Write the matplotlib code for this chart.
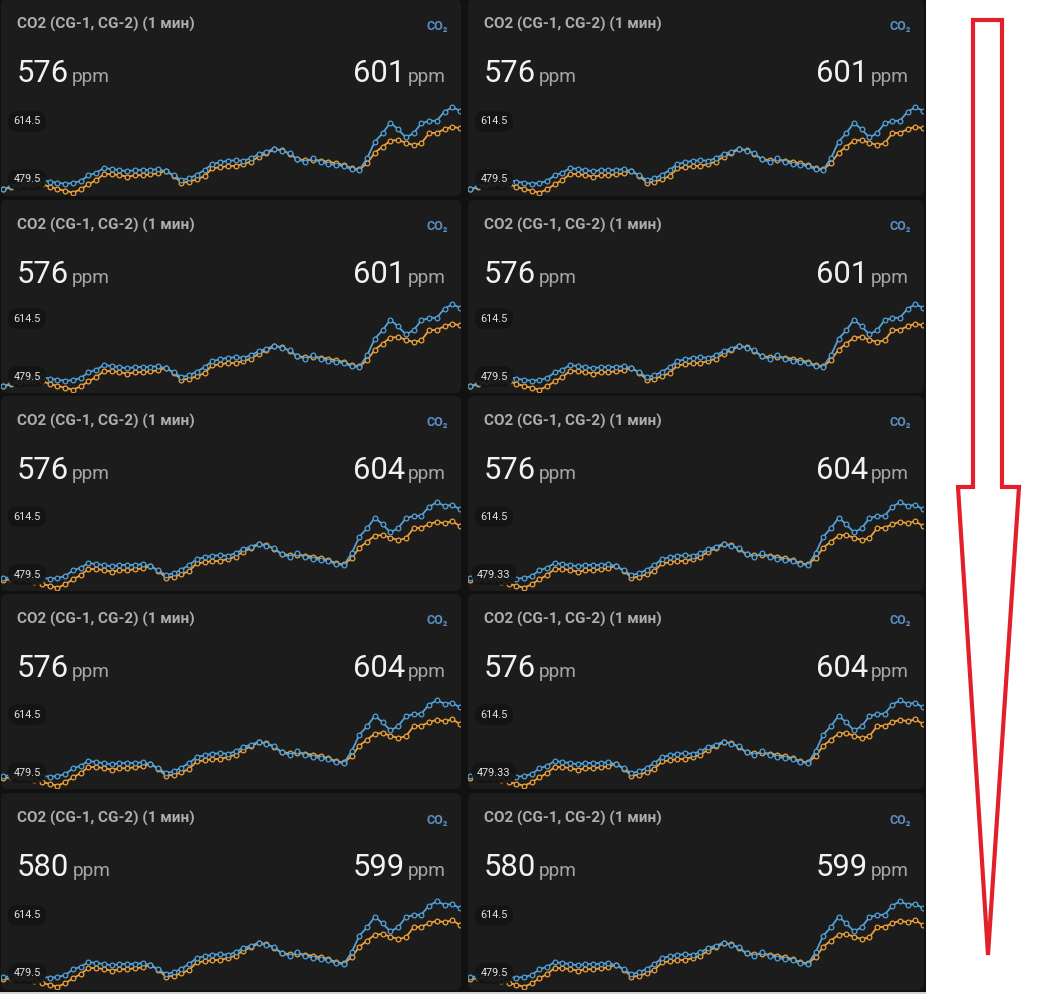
import numpy as np
import matplotlib.pyplot as plt
from matplotlib.patches import FancyBboxPatch, Polygon, Rectangle

plt.rcParams['font.family'] = ['Roboto', 'DejaVu Sans']

# CO2 readings, one per minute (ppm)
co2_cg1 = [484.8, 490.0, 494.3, 496.4, 498.5, 499.5, 496.9, 495.3, 493.7, 494.8,
           498.0, 506.9, 511.1, 518.5, 516.9, 515.4, 513.2, 515.4, 515.4, 515.4,
           516.9, 513.2, 506.9, 499.5, 502.2, 508.0, 515.4, 524.9, 527.5, 530.1,
           530.7, 530.1, 533.8, 540.7, 544.4, 549.1, 545.9, 541.7, 532.2, 528.5,
           533.8, 528.5, 524.9, 523.3, 521.7, 516.4, 515.4, 533.8, 560.2, 573.4,
           590.2, 579.7, 567.0, 573.4, 589.2, 592.9, 593.4, 607.6, 614.5, 609.2,
           610.3, 603.4]
co2_cg2 = [484.8, 488.0, 491.0, 493.0, 494.0, 492.7, 489.0, 485.3, 482.7, 479.5,
           484.8, 492.7, 499.5, 509.0, 509.0, 507.4, 504.8, 506.9, 507.4, 508.5,
           510.1, 514.3, 506.4, 495.3, 496.9, 500.6, 505.9, 518.0, 519.6, 521.7,
           521.7, 524.9, 528.5, 536.5, 541.7, 548.1, 547.0, 540.7, 532.2, 531.2,
           531.2, 530.1, 528.5, 525.9, 523.3, 518.0, 516.4, 525.9, 542.8, 552.3,
           561.8, 562.8, 558.6, 554.9, 557.5, 573.4, 574.4, 579.7, 583.9, 581.3,
           584.5, 577.0]

title = "CO2 (CG-1, CG-2) (1 мин)"
left_values = ["576", "576", "576", "576", "580"]
right_values = ["601", "601", "604", "604", "599"]
max_label = "614.5"
min_labels = [["479.5", "479.5"], ["479.5", "479.5"], ["479.5", "479.33"],
              ["479.5", "479.33"], ["479.5", "479.5"]]
row_shift = [0, 0, 2, 2, 2]
n_points = 60

W, H = 1058, 1000
fig = plt.figure(figsize=(W / 100, H / 100), dpi=100, facecolor='white')
bg = fig.add_axes([0, 0, 1, 1])
bg.set_xlim(0, W)
bg.set_ylim(H, 0)
bg.axis('off')

card_col = '#1c1c1c'
blue = '#52a2d9'
orange = '#eea13a'

bg.add_patch(Rectangle((0, 0), 926, 992, color='#111111', lw=0))
bg.add_patch(Rectangle((0, 992), 926, 2, color='#cfcfcf', lw=0))

card_tops = [-1, 200, 396, 594, 793]
card_bots = [196, 393, 591, 789, 990]
card_cols = [(1, 461), (468, 924)]

renderer = fig.canvas.get_renderer()

for r in range(5):
    top, bot = card_tops[r], card_bots[r]
    s = row_shift[r]
    y1 = np.array(co2_cg1[s:s + n_points])
    y2 = np.array(co2_cg2[s:s + n_points])
    for c, (L, R) in enumerate(card_cols):
        wc = R - L
        card = FancyBboxPatch((L, top), wc, bot - top,
                              boxstyle='round,pad=0,rounding_size=6',
                              fc=card_col, ec='none')
        bg.add_patch(card)

        # graph area: bottom 100 px of the card
        step = (wc - 3.3) / (n_points - 1)
        ax = fig.add_axes([L / W, 1 - bot / H, wc / W, 100 / H])
        ax.set_xlim(-2.3 / step, (wc - 2.3) / step)
        ax.set_ylim(474.3, 632.4)
        ax.axis('off')
        ax.patch.set_alpha(0)
        x = np.arange(n_points)
        for yy, col in [(y2, orange), (y1, blue)]:
            ln, = ax.plot(x, yy, color=col, lw=1.3, marker='o', ms=3.4,
                          mfc=card_col, mec=col, mew=0.9)
            ln.set_clip_path(card)

        # header
        fig.text(L + 16, top + 25, title, transform=bg.transData,
                 fontsize=11.0, fontweight='bold', color='#adadad',
                 ha='left', va='center')
        fig.text(R - 24, top + 27, "CO₂", transform=bg.transData,
                 fontsize=9, fontweight='bold', color='#5b8fc4',
                 ha='center', va='center')

        # current values
        base = top + 83
        t = fig.text(L + 16, base, left_values[r], transform=bg.transData,
                     fontsize=22.3, color='#f2f2f2', ha='left', va='baseline')
        ext = t.get_window_extent(renderer)
        fig.text(L + 16 + ext.width + 3, base, "ppm", transform=bg.transData,
                 fontsize=13.8, color='#a5a5a5', ha='left', va='baseline')
        p = fig.text(R - 15, base, "ppm", transform=bg.transData,
                     fontsize=13.8, color='#a5a5a5', ha='right', va='baseline')
        pext = p.get_window_extent(renderer)
        fig.text(R - 15 - pext.width - 3, base, right_values[r],
                 transform=bg.transData, fontsize=22.3, color='#f2f2f2',
                 ha='right', va='baseline')

        # min / max labels
        for lab, yy in [(max_label, bot - 74.5), (min_labels[r][c], bot - 16.5)]:
            fig.text(L + 26, yy, lab, transform=bg.transData, fontsize=7.8,
                     color='#e2e2e2', ha='center', va='center',
                     bbox=dict(boxstyle='round,pad=0.5,rounding_size=0.9',
                               fc='#141414', ec='none', alpha=0.92))

# red arrow pointing down
arrow = Polygon([(973, 20), (1002, 20), (1002, 487), (1019, 487), (988, 955),
                 (958, 487), (973, 487)], closed=True, fill=False,
                ec='#e3202a', lw=3.0, joinstyle='miter')
bg.add_patch(arrow)

fig.savefig('out.png', dpi=100, facecolor='white')
